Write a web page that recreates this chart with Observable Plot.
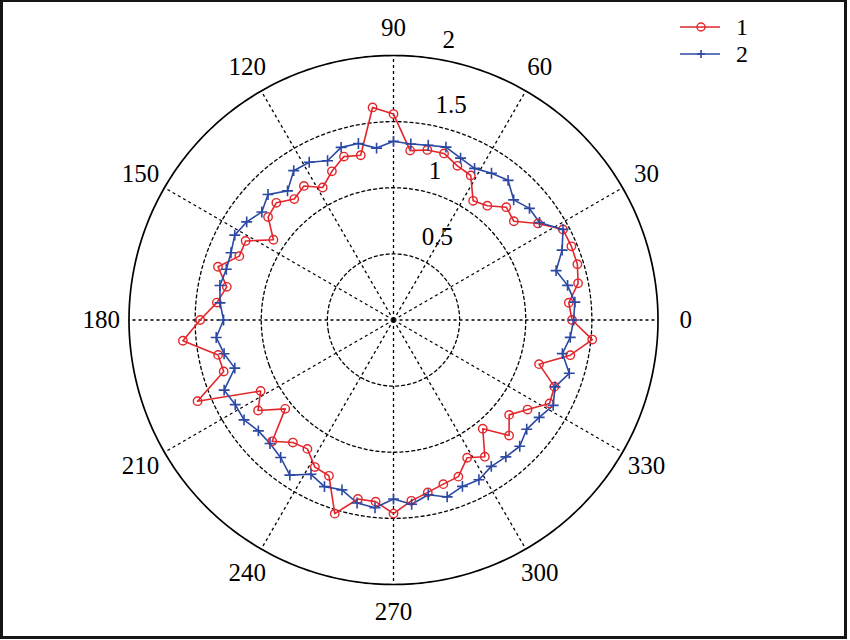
<!DOCTYPE html>
<html><head><meta charset="utf-8">
<script src="https://cdn.jsdelivr.net/npm/d3@7"></script>
<script src="https://cdn.jsdelivr.net/npm/@observablehq/plot@0.6"></script>
<style>
body{margin:0;background:#fff;}
#wrap{position:relative;width:850px;height:640px;overflow:hidden;background:#fff;}
#wrap, #wrap svg, #wrap text{font-family:"Liberation Serif","Times New Roman","DejaVu Serif",serif !important;}
#chart{position:absolute;left:0;top:0;}
#legend{position:absolute;left:670px;top:8px;}
#border{position:absolute;left:0;top:0;width:847px;height:639px;box-sizing:border-box;border:3px solid #151515;border-top-width:2.5px;pointer-events:none;}
</style></head><body>
<div id="wrap"><div id="chart"></div><div id="legend"></div><div id="border"></div></div>
<script>
// polar angle grid (degrees), 64 samples per revolution
const angleStep = 5.625;
const thetaDeg = d3.range(64).map(k => k * angleStep);

const seriesNames = ["1", "2"];
const seriesColors = ["#e2262b", "#2b48a3"];

const series1 = [1.350,1.332,1.423,1.453,1.456,1.453,1.314,1.177,1.206,1.118,1.084,1.239,1.262,1.316,1.311,1.287,
                 1.557,1.615,1.270,1.291,1.217,1.136,1.219,1.183,1.253,1.227,1.092,1.268,1.262,1.387,1.285,1.342,
                 1.462,1.600,1.352,1.342,1.604,1.139,1.232,1.059,1.297,1.199,1.172,1.261,1.275,1.530,1.380,1.380,
                 1.464,1.374,1.329,1.297,1.282,1.181,1.243,1.064,1.236,1.131,1.219,1.338,1.317,1.150,1.363,1.510];

const series2 = [1.362,1.378,1.342,1.285,1.380,1.453,1.328,1.330,1.285,1.366,1.334,1.300,1.325,1.366,1.347,1.337,
                 1.351,1.306,1.361,1.364,1.303,1.352,1.358,1.263,1.342,1.288,1.335,1.361,1.330,1.321,1.338,1.318,
                 1.285,1.347,1.306,1.254,1.386,1.357,1.359,1.322,1.321,1.345,1.411,1.323,1.364,1.342,1.411,1.426,
                 1.353,1.400,1.347,1.398,1.362,1.370,1.331,1.339,1.350,1.303,1.325,1.369,1.322,1.389,1.302,1.343];

const angleTicks = [0, 30, 60, 90, 120, 150, 180, 210, 240, 270, 300, 330];
const radiusTicks = [0.5, 1, 1.5, 2];
const rMax = 2;

const FONT = "Liberation Serif, Times New Roman, DejaVu Serif, serif";

// map polar coordinates onto a pole-centred azimuthal-equidistant projection
const K = 20;                     // degrees of arc per radial unit
const lon = t => t + 90;          // 0° to the right, counter-clockwise
const lat = r => 90 - r * K;
const ring = r => d3.geoCircle().center([0, 90]).radius(r * K).precision(1)();

const allSeries = [series1, series2];
const points = [];
const lineRows = [];
seriesNames.forEach((name, i) => {
  thetaDeg.forEach((t, k) => {
    points.push({series: name, theta: t, r: allSeries[i][k]});
    lineRows.push({series: name, theta: t, r: allSeries[i][k]});
  });
  lineRows.push({series: name, theta: 360, r: allSeries[i][0]}); // close the curve
});

const plot = Plot.plot({
  width: 850, height: 640,
  marginLeft: 128.5, marginRight: 192.5, marginTop: 55, marginBottom: 56,
  projection: {type: "azimuthal-equidistant", rotate: [0, -90], domain: ring(rMax), clip: false},
  color: {domain: seriesNames, range: seriesColors},
  style: {fontFamily: FONT, background: "transparent"},
  marks: [
    Plot.geo(radiusTicks.filter(r => r < rMax), {geometry: ring, fill: "none", stroke: "#000", strokeWidth: 1.3, strokeDasharray: "3,3"}),
    Plot.link(angleTicks, {x1: d => lon(d), y1: 90, x2: d => lon(d), y2: lat(rMax), stroke: "#000", strokeWidth: 1.3, strokeDasharray: "3,3"}),
    Plot.geo([rMax], {geometry: ring, fill: "none", stroke: "#000", strokeWidth: 1.7}),
    Plot.line(lineRows, {x: d => lon(d.theta), y: d => lat(d.r), z: "series", stroke: "series", strokeWidth: 1.6}),
    Plot.dot(points.filter(d => d.series === "1"), {x: d => lon(d.theta), y: d => lat(d.r), r: 4.2, symbol: "circle", stroke: seriesColors[0], fill: "none", strokeWidth: 1.4}),
    Plot.dot(points.filter(d => d.series === "2"), {x: d => lon(d.theta), y: d => lat(d.r), r: 3.6, symbol: "plus", stroke: seriesColors[1], fill: "none", strokeWidth: 1.6}),
    Plot.text(angleTicks, {x: d => lon(d), y: lat(2.21), text: d => String(d), fontSize: 25, fontFamily: FONT, fill: "#000"}),
    Plot.text(radiusTicks, {x: lon(84), y: d => lat(d + 0.025), text: d => String(d), textAnchor: "start", dx: 21, dy: -14, fontSize: 25, fontFamily: FONT, fill: "#000"})
  ]
});
document.getElementById("chart").appendChild(plot);

// legend
const lg = d3.select("#legend").append("svg").attr("width", 120).attr("height", 70)
  .attr("font-family", FONT);
seriesNames.forEach((name, i) => {
  const y = 19 + i * 27;
  const g = lg.append("g");
  g.append("line").attr("x1", 10).attr("x2", 50).attr("y1", y).attr("y2", y)
    .attr("stroke", seriesColors[i]).attr("stroke-width", 1.6);
  if (i === 0) {
    g.append("circle").attr("cx", 31).attr("cy", y).attr("r", 4).attr("fill", "none")
      .attr("stroke", seriesColors[i]).attr("stroke-width", 1.4);
  } else {
    g.append("path").attr("d", `M${31-4},${y}H${31+4}M31,${y-4}V${y+4}`)
      .attr("stroke", seriesColors[i]).attr("stroke-width", 1.6);
  }
  g.append("text").attr("x", 66).attr("y", y).attr("dy", "0.35em").attr("font-size", 24)
    .attr("font-family", FONT).attr("fill", "#000").text(name);
});
</script>
</body></html>
